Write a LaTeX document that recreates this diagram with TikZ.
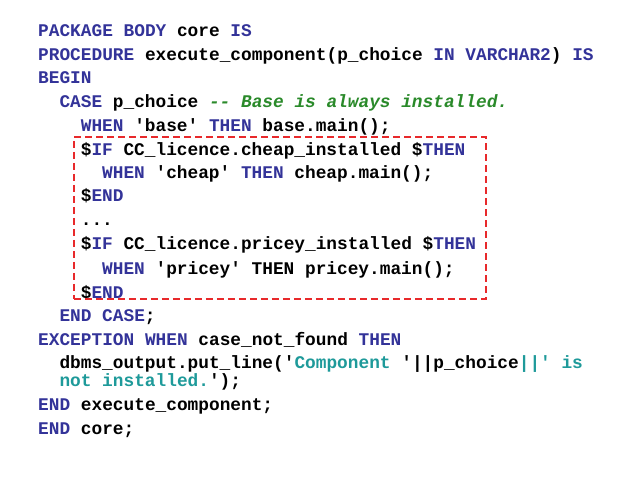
\documentclass[tikz,border=0pt]{standalone}
\usepackage{fontspec}
\setmonofont{Liberation Mono}
\definecolor{kw}{HTML}{333399}
\definecolor{cm}{HTML}{2A8A2A}
\definecolor{st}{HTML}{1E9A9A}
\definecolor{bx}{HTML}{E8292B}
\newcommand{\K}[1]{\textcolor{kw}{#1}}
\newcommand{\Cm}[1]{\textcolor{cm}{\itshape #1}}
\newcommand{\St}[1]{\textcolor{st}{#1}}
\begin{document}
\begin{tikzpicture}[x=1bp,y=1bp,
  code/.style={anchor=base west,inner sep=0pt,font=\ttfamily\bfseries\fontsize{17.8bp}{20bp}\selectfont}]
\useasboundingbox[fill=white] (0,0) rectangle (638,-479);
\def\cw{10.66}
\node[code] (l1) at (38,-37) {\K{PACKAGE BODY} core \K{IS}};
\node[code] (l2) at (38,-61) {\K{PROCEDURE} execute\_component(p\_choice \K{IN VARCHAR2}) \K{IS}};
\node[code] (l3) at (38,-84) {\K{BEGIN}};
\node[code] (l4) at (38+2*\cw,-108) {\K{CASE} p\_choice \Cm{-- Base is always installed.}};
\node[code] (l5) at (38+4*\cw,-132) {\K{WHEN} 'base' \K{THEN} base.main();};
\node[code] (l6) at (38+4*\cw,-156) {\$\K{IF} CC\_licence.cheap\_installed \$\K{THEN}};
\node[code] (l7) at (38+6*\cw,-179) {\K{WHEN} 'cheap' \K{THEN} cheap.main();};
\node[code] (l8) at (38+4*\cw,-202) {\$\K{END}};
\node[code] (l9) at (38+4*\cw,-226) {...};
\node[code] (l10) at (38+4*\cw,-250) {\$\K{IF} CC\_licence.pricey\_installed \$\K{THEN}};
\node[code] (l11) at (38+6*\cw,-274) {\K{WHEN} 'pricey' THEN pricey.main();};
\node[code] (l12) at (38+4*\cw,-298) {\$\K{END}};
\node[code] (l13) at (38+2*\cw,-321) {\K{END CASE};};
\node[code] (l14) at (38,-345) {\K{EXCEPTION WHEN} case\_not\_found \K{THEN}};
\node[code] (l15) at (38+2*\cw,-368) {dbms\_output.put\_line('\St{Component} '||p\_choice\St{||' is}};
\node[code] (l16) at (38+2*\cw,-386) {\St{not installed.}');};
\node[code] (l17) at (38,-410) {\K{END} execute\_component;};
\node[code] (l18) at (38,-434) {\K{END} core;};
\node[draw=bx,dashed,line width=1.6bp,dash pattern=on 7bp off 4bp,inner sep=0pt,minimum width=412bp,minimum height=162bp,anchor=north west] (box) at (73,-136) {};
\end{tikzpicture}
\end{document}
